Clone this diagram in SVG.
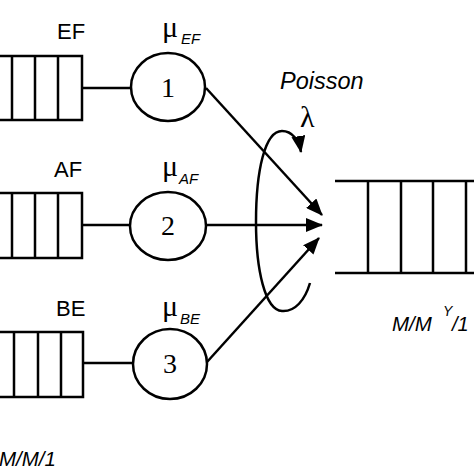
<svg xmlns="http://www.w3.org/2000/svg" width="474" height="474" viewBox="0 0 474 474">
<defs>
<style>
.ln{fill:none;stroke:#000;stroke-width:2.5}
.nd{fill:#fff;stroke:#000;stroke-width:2.5}
.lab{font-family:"Liberation Sans",Arial,sans-serif;font-size:22px;fill:#000}
.it{font-family:"Liberation Sans",Arial,sans-serif;font-style:italic;fill:#000}
.num{font-family:"Liberation Serif","Times New Roman",serif;font-size:28px;fill:#000;text-anchor:middle}
.mu{font-family:"Liberation Serif","Times New Roman",serif;font-size:30px;fill:#000}
</style>
<marker id="ah" markerUnits="userSpaceOnUse" markerWidth="17" markerHeight="14" viewBox="0 0 17 14" refX="16" refY="7" orient="auto">
<path d="M0,0 L17,7 L0,14 z" fill="#000"/>
</marker>
</defs>
<rect width="474" height="474" fill="#fff"/>

<g id="queue-ef">
<path class="ln" d="M-5,56 H82 V120 H-5 M12,56 V120 M35,56 V120 M58,56 V120"/>
<text class="lab" x="57" y="39">EF</text>
</g>
<g id="queue-af">
<path class="ln" d="M-5,193 H82 V258 H-5 M12,193 V258 M35,193 V258 M58,193 V258"/>
<text class="lab" x="54" y="177">AF</text>
</g>
<g id="queue-be">
<path class="ln" d="M-5,332 H83 V397 H-5 M14,332 V397 M38,332 V397 M61,332 V397"/>
<text class="lab" x="56" y="316">BE</text>
</g>

<g id="server-1">
<ellipse class="nd" cx="168" cy="87" rx="37" ry="34"/>
<text class="num" x="168" y="97">1</text>
<text class="mu" x="162" y="37">μ</text>
<text class="it" x="181" y="44" font-size="15">EF</text>
</g>
<g id="server-2">
<ellipse class="nd" cx="168" cy="226" rx="38" ry="34"/>
<text class="num" x="168" y="235">2</text>
<text class="mu" x="162" y="176">μ</text>
<text class="it" x="179" y="184" font-size="15">AF</text>
</g>
<g id="server-3">
<ellipse class="nd" cx="170" cy="364" rx="37" ry="35"/>
<text class="num" x="170" y="373">3</text>
<text class="mu" x="162" y="316">μ</text>
<text class="it" x="180" y="324" font-size="15">BE</text>
</g>

<g id="queue-out">
<path class="ln" d="M335,181 H480 M335,273 H480 M368,181 V273 M401,181 V273 M433,181 V273 M466,181 V273"/>
<text class="it" x="392" y="331" font-size="20.5">M/M</text>
<text class="it" x="443" y="316" font-size="14">Y</text>
<text class="it" x="452" y="331" font-size="20">/1</text>
</g>

<text class="it" x="-1" y="466" font-size="20.5">M/M/1</text>

<g id="poisson">
<text class="it" x="280" y="89" font-size="23.5">Poisson</text>
<text class="mu" x="300" y="127" font-size="28">λ</text>
</g>

<g id="connectors">
<line class="ln" x1="82" y1="88" x2="131" y2="88"/>
<line class="ln" x1="82" y1="225" x2="130" y2="225"/>
<line class="ln" x1="83" y1="363" x2="133" y2="363"/>
<line class="ln" x1="206" y1="88" x2="322" y2="215" marker-end="url(#ah)"/>
<line class="ln" x1="206" y1="225" x2="322" y2="225" marker-end="url(#ah)"/>
<line class="ln" x1="207" y1="362" x2="319" y2="238" marker-end="url(#ah)"/>
<path class="ln" d="M310,283 C305,300 295,312 282,311 C265,310 256,270 256,222 C256,170 265,131 282,131 C292,131 299,140 301,152" marker-end="url(#ah)"/>
</g>
</svg>
